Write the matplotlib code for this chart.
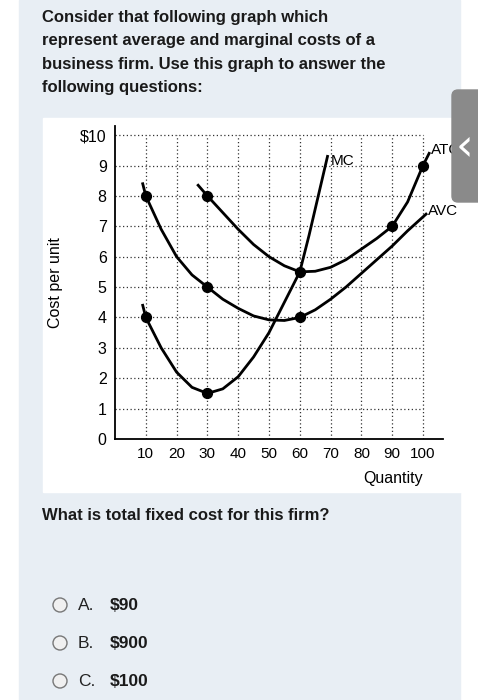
import matplotlib
matplotlib.use('Agg')
import matplotlib.pyplot as plt
from matplotlib.patches import Rectangle, Circle, FancyBboxPatch

# curve points (quantity, cost per unit)
atc_q = [27, 30, 35, 40, 45, 50, 55, 60, 65, 70, 75, 80, 85, 90, 95, 100, 102]
atc_c = [8.35, 8.0, 7.45, 6.9, 6.4, 6.0, 5.7, 5.5, 5.52, 5.65, 5.9, 6.25, 6.6, 7.0, 7.8, 9.0, 9.4]
avc_q = [9, 10, 15, 20, 25, 30, 35, 40, 45, 50, 55, 60, 65, 70, 75, 80, 85, 90, 95, 101]
avc_c = [8.4, 8.0, 6.9, 6.0, 5.4, 5.0, 4.6, 4.3, 4.05, 3.92, 3.9, 4.0, 4.25, 4.6, 5.0, 5.45, 5.9, 6.35, 6.85, 7.4]
mc_q = [9, 10, 15, 20, 25, 30, 35, 40, 45, 50, 55, 60, 63, 66, 69]
mc_c = [4.4, 4.0, 3.0, 2.2, 1.7, 1.5, 1.65, 2.05, 2.7, 3.5, 4.5, 5.5, 6.7, 8.0, 9.3]

# highlighted dots
dot_q = [30, 60, 90, 100, 10, 30, 60, 10, 30]
dot_c = [8, 5.5, 7, 9, 8, 5, 4, 4, 1.5]

x_ticks = [10, 20, 30, 40, 50, 60, 70, 80, 90, 100]
y_ticks = [0, 1, 2, 3, 4, 5, 6, 7, 8, 9, 10]
y_labels = ['0', '1', '2', '3', '4', '5', '6', '7', '8', '9', '$10']

question = ("Consider that following graph which\nrepresent average and marginal costs of a\n"
            "business firm. Use this graph to answer the\nfollowing questions:")
answers = [('A.', '$90'), ('B.', '$900'), ('C.', '$100')]

W, H = 478, 700
fig = plt.figure(figsize=(W / 100, H / 100), dpi=100)
fig.patch.set_facecolor('white')

# page background
bg = fig.add_axes([0, 0, 1, 1])
bg.set_xlim(0, W)
bg.set_ylim(H, 0)
bg.axis('off')
bg.add_patch(Rectangle((19, 0), 441, H, color='#e8eef4', zorder=0))
bg.add_patch(Rectangle((43, 118), 435, 374, color='white', zorder=1))
bg.text(42, 10, question, fontsize=12, fontweight='bold', va='top', ha='left',
        linespacing=1.7, color='#1a1a1a', family='Liberation Sans')
bg.text(42, 516, "What is total fixed cost for this firm?", fontsize=12, fontweight='bold',
        va='center', color='#1a1a1a', family='Liberation Sans')
for i, (letter, val) in enumerate(answers):
    y = 605 + i * 38
    bg.add_patch(Circle((60, y), 7, facecolor='#f0f0f0', edgecolor='#777777', lw=1, zorder=2))
    bg.text(78, y, letter, fontsize=12.5, va='center', color='#222222', family='Liberation Sans')
    bg.text(110, y, val, fontsize=12.5, fontweight='bold', va='center', color='#1a1a1a',
            family='Liberation Sans')

# chart
ax = fig.add_axes([115 / W, 1 - 439 / H, 328 / W, 313 / H])
ax.set_facecolor('white')
ax.set_xlim(0, 106.5)
ax.set_ylim(0, 10.3)
for v in x_ticks:
    ax.plot([v, v], [0, 10], color='#333333', lw=0.9, ls=(0, (1, 2)), zorder=1)
for v in y_ticks[1:]:
    ax.plot([0, 100], [v, v], color='#333333', lw=0.9, ls=(0, (1, 2)), zorder=1)

ax.plot(atc_q, atc_c, color='black', lw=2, zorder=3)
ax.plot(avc_q, avc_c, color='black', lw=2, zorder=3)
ax.plot(mc_q, mc_c, color='black', lw=2, zorder=3)
ax.scatter(dot_q, dot_c, s=50, color='black', zorder=4)

ax.text(70, 9.15, 'MC', fontsize=11, va='center', family='Liberation Sans')
ax.text(102.5, 9.5, 'ATC', fontsize=11, va='center', family='Liberation Sans', clip_on=False)
ax.text(101.5, 7.5, 'AVC', fontsize=11, va='center', family='Liberation Sans', clip_on=False)

ax.spines['top'].set_visible(False)
ax.spines['right'].set_visible(False)
ax.spines['left'].set_linewidth(1.3)
ax.spines['bottom'].set_linewidth(1.3)
ax.set_xticks(x_ticks)
ax.set_xticklabels([str(v) for v in x_ticks], fontsize=11, family='Liberation Sans')
ax.set_yticks(y_ticks)
ax.set_yticklabels(y_labels, fontsize=11.5, family='Liberation Sans')
ax.tick_params(length=0, pad=6)
ax.set_ylabel('Cost per unit', fontsize=11.5, family='Liberation Sans', labelpad=12)
ax.text(100, -1.05, 'Quantity', fontsize=11.5, ha='right', va='top', family='Liberation Sans')

# gray side tab overlapping the chart
tab = fig.add_axes([0, 0, 1, 1], facecolor='none')
tab.set_xlim(0, W)
tab.set_ylim(H, 0)
tab.axis('off')
tab.add_patch(FancyBboxPatch((452, 90), 40, 112, boxstyle='round,pad=0,rounding_size=6',
                             color='#8a8a8a', zorder=5))
tab.text(465, 148, '\u2039', fontsize=32, color='white', ha='center', va='center', zorder=6)

fig.savefig('out.png', dpi=100)
